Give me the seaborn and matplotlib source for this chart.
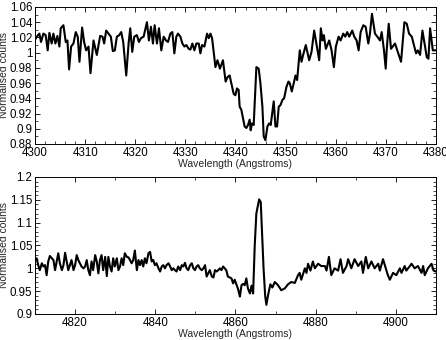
import numpy as np
import pandas as pd
import matplotlib
matplotlib.use("Agg")
import matplotlib.pyplot as plt
from matplotlib.ticker import MultipleLocator
import seaborn as sns

# H-gamma region
hg_wave = [4300.0, 4300.47, 4300.87, 4301.2, 4301.67, 4302.13, 4302.53, 4302.87, 4303.33, 4303.67,
           4304.07, 4304.47, 4304.87, 4305.13, 4305.67, 4306.13, 4306.47, 4306.8, 4307.2, 4307.67,
           4308.13, 4308.53, 4308.87, 4309.4, 4309.8, 4310.2, 4310.67, 4311.07, 4311.67, 4312.33,
           4313.0, 4313.47, 4313.8, 4314.2, 4314.67, 4315.13, 4315.53, 4315.93, 4316.33, 4316.8,
           4317.2, 4317.6, 4318.2, 4318.67, 4319.0, 4319.4, 4319.8, 4320.33, 4320.73, 4321.13,
           4321.67, 4322.33, 4322.73, 4323.13, 4323.53, 4323.87, 4324.33, 4324.73, 4325.2, 4325.67,
           4326.13, 4326.53, 4327.0, 4327.4, 4327.8, 4328.2, 4328.53, 4329.0, 4329.4, 4329.8,
           4330.2, 4330.67, 4331.0, 4331.4, 4331.8, 4332.2, 4332.67, 4333.0, 4333.33, 4333.8,
           4334.33, 4334.67, 4335.0, 4335.33, 4336.0, 4336.4, 4336.9, 4337.5, 4338.03, 4338.43,
           4338.83, 4339.17, 4339.63, 4339.97, 4340.3, 4340.63, 4340.83, 4341.17, 4341.37, 4341.83,
           4342.17, 4342.5, 4342.83, 4343.03, 4343.3, 4343.63, 4344.17, 4344.63, 4344.97, 4345.37,
           4345.63, 4345.97, 4346.37, 4346.7, 4347.03, 4347.63, 4347.97, 4348.3, 4348.63, 4348.97,
           4349.37, 4349.7, 4350.17, 4350.57, 4350.83, 4351.23, 4351.63, 4351.97, 4352.3, 4352.83,
           4353.17, 4353.5, 4354.03, 4354.7, 4355.17, 4355.7, 4356.7, 4357.03, 4357.37, 4357.63,
           4358.03, 4358.7, 4359.17, 4359.63, 4360.03, 4360.57, 4360.97, 4361.5, 4361.9, 4362.3,
           4362.7, 4363.3, 4363.7, 4364.17, 4364.57, 4364.97, 4365.5, 4365.97, 4366.5, 4366.83,
           4367.23, 4367.83, 4368.3, 4368.83, 4369.17, 4369.63, 4369.97, 4370.17, 4370.57, 4371.03,
           4371.83, 4373.03, 4373.7, 4374.17, 4374.63, 4375.17, 4376.03, 4376.37, 4376.83, 4377.3,
           4378.17, 4378.5, 4378.83, 4379.37, 4380.0]
hg_flux = [1.017, 1.022, 1.025, 1.014, 1.025, 1.023, 1.003, 1.026, 1.012, 1.025,
           1.012, 1.022, 1.008, 1.032, 1.036, 1.014, 1.016, 0.978, 1.008, 1.012,
           1.027, 1.021, 0.988, 1.033, 1.014, 1.003, 1.008, 0.973, 1.016, 0.997,
           1.022, 1.021, 1.012, 1.029, 1.025, 1.021, 1.002, 1.003, 1.021, 1.023,
           1.027, 1.014, 0.970, 1.012, 1.032, 1.001, 1.021, 1.023, 1.014, 1.019,
           1.021, 1.040, 1.016, 1.034, 1.012, 1.036, 1.012, 1.032, 1.003, 1.021,
           1.016, 1.014, 1.025, 1.027, 0.999, 1.021, 1.025, 1.021, 1.012, 1.008,
           1.010, 1.005, 1.004, 1.012, 1.003, 1.012, 1.012, 0.999, 1.010, 1.008,
           1.025, 1.019, 1.025, 1.019, 0.981, 0.990, 0.979, 0.990, 0.962, 0.968,
           0.970, 0.960, 0.946, 0.944, 0.953, 0.951, 0.929, 0.925, 0.918, 0.903,
           0.901, 0.905, 0.912, 0.898, 0.907, 0.905, 0.981, 0.979, 0.960, 0.929,
           0.890, 0.885, 0.903, 0.907, 0.905, 0.936, 0.903, 0.903, 0.929, 0.931,
           0.938, 0.940, 0.955, 0.962, 0.960, 0.949, 0.960, 0.970, 0.964, 1.003,
           0.988, 0.997, 1.010, 0.990, 1.001, 1.029, 0.990, 1.032, 1.016, 1.023,
           1.005, 1.016, 1.003, 0.981, 1.008, 1.021, 1.016, 1.025, 1.021, 1.027,
           1.021, 1.029, 1.021, 1.016, 1.003, 1.027, 1.036, 1.034, 1.012, 1.025,
           1.051, 1.025, 1.021, 1.016, 1.027, 1.003, 0.979, 1.003, 1.038, 1.005,
           1.012, 0.988, 1.040, 1.038, 1.025, 1.021, 0.999, 1.003, 0.997, 1.029,
           0.994, 0.992, 1.032, 1.003, 1.003]

# H-beta region
hb_wave = [4810.0, 4810.4, 4810.8, 4811.2, 4811.7, 4812.1, 4812.5, 4812.9, 4813.3, 4813.7,
           4814.2, 4814.6, 4815.0, 4815.4, 4815.8, 4816.2, 4816.7, 4817.1, 4817.5, 4817.9,
           4818.3, 4818.7, 4819.1, 4819.6, 4820.0, 4820.4, 4820.8, 4821.2, 4821.6, 4822.1,
           4822.5, 4822.9, 4823.3, 4823.7, 4824.1, 4824.5, 4825.0, 4825.4, 4825.8, 4826.2,
           4826.6, 4827.0, 4827.5, 4827.9, 4828.3, 4828.7, 4829.1, 4829.5, 4829.9, 4830.4,
           4830.8, 4831.2, 4831.6, 4832.0, 4832.4, 4832.9, 4833.3, 4833.7, 4834.1, 4834.5,
           4834.9, 4835.4, 4835.8, 4836.2, 4836.6, 4837.0, 4837.4, 4837.8, 4838.3, 4838.7,
           4839.1, 4839.5, 4839.9, 4840.3, 4840.8, 4841.2, 4841.6, 4842.0, 4842.4, 4842.8,
           4843.3, 4843.7, 4844.1, 4844.5, 4844.9, 4845.3, 4845.7, 4846.2, 4846.6, 4847.0,
           4847.4, 4847.8, 4848.2, 4848.7, 4849.1, 4849.5, 4849.9, 4850.3, 4850.7, 4851.1,
           4851.6, 4852.0, 4852.4, 4852.8, 4853.2, 4853.6, 4854.1, 4854.5, 4854.9, 4855.3,
           4855.7, 4856.1, 4856.5, 4856.9, 4857.7, 4858.1, 4859.0, 4859.4, 4859.8, 4860.6,
           4861.1, 4861.5, 4861.9, 4862.3, 4862.7, 4863.1, 4863.6, 4864.0, 4864.4, 4864.8,
           4865.2, 4865.9, 4866.3, 4866.7, 4867.0, 4867.4, 4867.7, 4868.1, 4868.7, 4869.2,
           4869.8, 4870.4, 4871.0, 4871.4, 4872.3, 4873.1, 4873.9, 4874.8, 4875.6, 4876.0,
           4876.4, 4877.3, 4877.7, 4878.1, 4878.7, 4879.3, 4879.8, 4880.6, 4881.4, 4882.3,
           4882.7, 4883.3, 4883.9, 4884.7, 4885.6, 4886.2, 4886.8, 4887.7, 4888.1, 4888.9,
           4889.7, 4890.6, 4891.4, 4891.8, 4892.5, 4893.1, 4893.9, 4894.7, 4895.6, 4896.0,
           4896.8, 4897.5, 4898.0, 4898.5, 4899.3, 4900.1, 4901.0, 4901.4, 4902.2, 4902.6,
           4903.5, 4903.9, 4904.7, 4905.5, 4906.4, 4906.8, 4907.2, 4908.0, 4908.9, 4909.4,
           4910.0]
hb_flux = [1.018, 1.022, 1.007, 0.996, 1.011, 1.004, 1.007, 0.985, 1.015, 1.027,
           1.022, 1.018, 0.996, 1.015, 1.033, 1.011, 0.996, 1.007, 1.034, 1.015,
           0.996, 1.007, 1.018, 0.996, 1.007, 1.029, 1.018, 1.011, 1.004, 1.000,
           1.004, 1.018, 0.996, 0.985, 1.015, 0.996, 1.029, 1.015, 0.989, 1.018,
           1.029, 0.996, 1.025, 0.983, 1.025, 1.004, 0.993, 1.022, 1.004, 1.022,
           0.996, 1.004, 1.022, 1.007, 1.033, 1.025, 1.024, 1.018, 1.011, 1.018,
           1.039, 0.996, 1.018, 1.007, 1.018, 1.004, 1.022, 1.011, 1.033, 1.036,
           1.015, 1.018, 1.007, 1.011, 1.000, 0.993, 1.004, 1.007, 1.000, 1.007,
           1.011, 1.004, 0.996, 1.000, 0.996, 0.993, 1.004, 0.996, 1.007, 1.004,
           1.012, 1.000, 0.996, 1.007, 1.011, 1.000, 0.996, 1.004, 1.007, 1.000,
           0.996, 1.000, 1.007, 0.982, 0.989, 0.996, 0.982, 0.980, 0.996, 0.993,
           0.996, 1.000, 0.996, 1.004, 0.996, 0.982, 0.978, 0.967, 0.975, 0.956,
           0.938, 0.963, 0.966, 0.963, 0.978, 0.956, 0.945, 0.962, 0.945, 1.050,
           1.120, 1.151, 1.145, 1.060, 1.000, 0.940, 0.920, 0.940, 0.965, 0.958,
           0.970, 0.965, 0.958, 0.952, 0.956, 0.965, 0.970, 0.968, 0.985, 0.990,
           0.975, 1.000, 0.990, 1.010, 0.995, 1.015, 1.000, 1.010, 1.005, 1.005,
           0.995, 1.025, 0.985, 1.000, 0.995, 1.020, 0.990, 1.005, 1.020, 1.000,
           1.020, 1.005, 1.015, 0.990, 1.025, 1.000, 1.015, 1.000, 1.010, 0.995,
           1.020, 1.000, 0.985, 0.975, 0.990, 0.985, 1.000, 0.990, 1.005, 0.995,
           1.005, 1.010, 1.000, 1.005, 0.990, 1.005, 0.985, 1.000, 1.010, 0.995,
           0.993]

hg = pd.DataFrame({"wavelength": hg_wave, "flux": hg_flux})
hb = pd.DataFrame({"wavelength": hb_wave, "flux": hb_flux})

sns.set_theme(style="white")
plt.rcParams["font.family"] = ["Liberation Sans", "DejaVu Sans"]

fig = plt.figure(figsize=(4.46, 3.40), dpi=100)
ax1 = fig.add_axes([0.0785, 0.5765, 0.899, 0.403])
ax2 = fig.add_axes([0.0785, 0.0765, 0.899, 0.403])

panels = [
    (ax1, hg, (4300, 4380), (0.88, 1.06), 10, 2, 0.02, 0.01),
    (ax2, hb, (4810, 4910), (0.9, 1.2), 20, 10, 0.05, 0.01),
]

for ax, df, xlim, ylim, xmaj, xmin, ymaj, ymin in panels:
    sns.lineplot(data=df, x="wavelength", y="flux", ax=ax, color="black",
                 linewidth=1.5, sort=False)
    ax.set_xlim(*xlim)
    ax.set_ylim(*ylim)
    ax.xaxis.set_major_locator(MultipleLocator(xmaj))
    ax.xaxis.set_minor_locator(MultipleLocator(xmin))
    ax.yaxis.set_major_locator(MultipleLocator(ymaj))
    ax.yaxis.set_minor_locator(MultipleLocator(ymin))
    ax.yaxis.set_major_formatter(plt.FuncFormatter(lambda v, p: f"{v:.2f}".rstrip("0").rstrip(".")))
    ax.tick_params(which="both", direction="in", top=True, right=True,
                   bottom=True, left=True, colors="black", labelsize=8.3, pad=2)
    ax.tick_params(which="major", length=3.5, width=0.6)
    ax.tick_params(which="minor", length=2, width=0.5)
    for s in ax.spines.values():
        s.set_color("black")
        s.set_linewidth(0.7)
    ax.set_xlabel("Wavelength (Angstroms)", fontsize=7.5, labelpad=0)
    ax.set_ylabel("Normalised counts", fontsize=7.5)
    ax.yaxis.set_label_coords(-0.066, 0.5)

fig.savefig("out.png", dpi=100)
